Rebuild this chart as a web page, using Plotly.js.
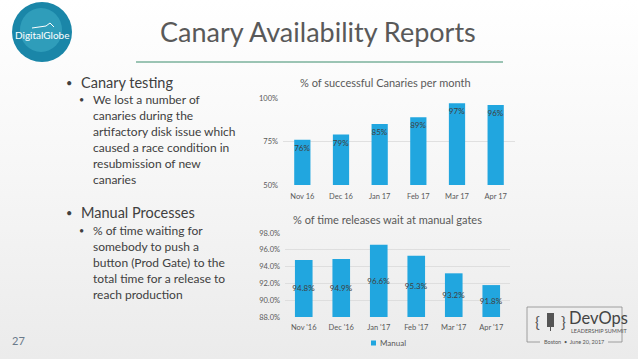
<!DOCTYPE html>
<html>
<head>
<meta charset="utf-8">
<script src="https://cdn.plot.ly/plotly-3.0.1.min.js"></script>
<style>
html,body{margin:0;padding:0;}
body{width:638px;height:359px;overflow:hidden;background:linear-gradient(#ffffff 0%, #f6f6f6 50%, #ebebeb 100%);}
#chart{width:638px;height:359px;}
</style>
</head>
<body>
<div id="chart"></div>
<script>
// ---- data ----
const canaryMonths = ["Nov 16","Dec 16","Jan 17","Feb 17","Mar 17","Apr 17"];
const canaryValues = [76, 79, 85, 89, 97, 96];
const canaryTicks = [50, 75, 100];
const canaryTickLabels = ["50%","75%","100%"];

const manualMonths = ["Nov '16","Dec '16","Jan '17","Feb '17","Mar '17","Apr '17"];
const manualValues = [94.8, 94.9, 96.6, 95.3, 93.2, 91.8];
const manualTicks = [88, 90, 92, 94, 96, 98];
const manualTickLabels = ["88.0%","90.0%","92.0%","94.0%","96.0%","98.0%"];
const manualAxisMin = 88;

const slideTitle = "Canary Availability Reports";
const chart1Title = "% of successful Canaries per month";
const chart2Title = "% of time releases wait at manual gates";
const seriesName = "Manual";
const pageNumber = "27";
const bullets = [
  {level:0, y:82, text:"Canary testing"},
  {level:1, y:99, text:"We lost a number of", dot:true},
  {level:1, y:115, text:"canaries during the"},
  {level:1, y:131, text:"artifactory disk issue which"},
  {level:1, y:147, text:"caused a race condition in"},
  {level:1, y:163, text:"resubmission of new"},
  {level:1, y:179, text:"canaries"},
  {level:0, y:212, text:"Manual Processes"},
  {level:1, y:230, text:"% of time waiting for", dot:true},
  {level:1, y:246, text:"somebody to push a"},
  {level:1, y:262, text:"button (Prod Gate) to the"},
  {level:1, y:278, text:"total time for a release to"},
  {level:1, y:294, text:"reach production"}
];

// ---- helpers (pixel -> paper) ----
const W = 638, H = 359;
const px = x => x / W;
const py = y => 1 - y / H;

const FONT = "Lato, 'Open Sans', sans-serif";
const BAR = "#21a6df";
const GRID = "#d9d9d9";
const TXT = "#595959";

const traces = [
  {
    type: "bar", x: canaryMonths, y: canaryValues, xaxis: "x", yaxis: "y",
    marker: {color: BAR}, width: 0.42, showlegend: false,
    text: canaryValues.map(v => v + "%"), textposition: "inside",
    insidetextanchor: "end", textangle: 0, constraintext: "none",
    textfont: {family: FONT, size: 8, color: "#404040"},
    hoverinfo: "x+text"
  },
  {
    // bars drawn from the axis minimum so that labels centre in the visible bar
    type: "bar", x: manualMonths, y: manualValues.map(v => v - manualAxisMin),
    base: manualValues.map(() => manualAxisMin), xaxis: "x2", yaxis: "y2",
    marker: {color: BAR}, width: 0.47, name: seriesName, showlegend: false,
    text: manualValues.map(v => v.toFixed(1) + "%"), textposition: "inside",
    insidetextanchor: "middle", textangle: 0, constraintext: "none",
    textfont: {family: FONT, size: 8, color: "#404040"},
    hoverinfo: "x+text"
  }
];

const annotations = [];
const shapes = [];

// slide title
annotations.push({xref:"paper", yref:"paper", x:px(318), y:py(32), text:slideTitle,
  showarrow:false, xanchor:"center", yanchor:"middle",
  font:{family:FONT, size:27, color:TXT}});
shapes.push({type:"line", xref:"paper", yref:"paper", x0:px(136), x1:px(503), y0:py(62), y1:py(62),
  line:{color:"#3a8c6c", width:1.2}});

// chart titles
annotations.push({xref:"paper", yref:"paper", x:px(385), y:py(82), text:chart1Title,
  showarrow:false, xanchor:"center", yanchor:"middle", font:{family:FONT, size:11, color:TXT}});
annotations.push({xref:"paper", yref:"paper", x:px(388), y:py(219), text:chart2Title,
  showarrow:false, xanchor:"center", yanchor:"middle", font:{family:FONT, size:11, color:TXT}});

// legend for chart 2
shapes.push({type:"rect", xref:"paper", yref:"paper", x0:px(371), x1:px(376), y0:py(345.5), y1:py(340.5),
  fillcolor:BAR, line:{width:0}});
annotations.push({xref:"paper", yref:"paper", x:px(378), y:py(343), text:seriesName,
  showarrow:false, xanchor:"left", yanchor:"middle", font:{family:FONT, size:8, color:TXT}});

// bullets
bullets.forEach(b => {
  const main = b.level === 0;
  const tx = main ? 79 : 91;
  const bx = main ? 69 : 81;
  const fs = main ? 14.5 : 12;
  annotations.push({xref:"paper", yref:"paper", x:px(tx), y:py(b.y), text:b.text,
    showarrow:false, xanchor:"left", yanchor:"middle", font:{family:FONT, size:fs, color:"#404040"}});
  if (main || b.dot) {
    annotations.push({xref:"paper", yref:"paper", x:px(bx), y:py(b.y), text:"•",
      showarrow:false, xanchor:"center", yanchor:"middle", font:{family:FONT, size:main?11:9, color:"#404040"}});
  }
});

// page number
annotations.push({xref:"paper", yref:"paper", x:px(18), y:py(340), text:pageNumber,
  showarrow:false, xanchor:"center", yanchor:"middle", font:{family:FONT, size:11, color:"#6a7a8a"}});

// DigitalGlobe logo
shapes.push({type:"circle", xref:"paper", yref:"paper", x0:px(12), x1:px(72), y0:py(62), y1:py(2),
  fillcolor:"#1a86a8", line:{width:0}});
shapes.push({type:"circle", xref:"paper", yref:"paper", x0:px(20), x1:px(62), y0:py(52), y1:py(8),
  fillcolor:"rgba(90,200,220,0.35)", line:{width:0}});
shapes.push({type:"path", xref:"paper", yref:"paper",
  path:`M ${px(32)} ${py(28)} L ${px(46)} ${py(26)} L ${px(50)} ${py(23)} L ${px(54)} ${py(27)}`,
  line:{color:"#ffffff", width:1}});
annotations.push({xref:"paper", yref:"paper", x:px(42), y:py(35), text:"DigitalGlobe",
  showarrow:false, xanchor:"center", yanchor:"middle", font:{family:FONT, size:10, color:"#ffffff"}});

// DevOps logo
const box = {l:527, r:622, t:307, b:342};
const lg = {color:"#8a8a8a", width:0.8};
shapes.push({type:"line", xref:"paper", yref:"paper", x0:px(box.l), x1:px(box.r), y0:py(box.t), y1:py(box.t), line:lg});
shapes.push({type:"line", xref:"paper", yref:"paper", x0:px(box.l), x1:px(box.l), y0:py(box.t), y1:py(box.b), line:lg});
shapes.push({type:"line", xref:"paper", yref:"paper", x0:px(box.r), x1:px(box.r), y0:py(box.t), y1:py(box.b), line:lg});
shapes.push({type:"line", xref:"paper", yref:"paper", x0:px(box.l), x1:px(540), y0:py(box.b), y1:py(box.b), line:lg});
shapes.push({type:"line", xref:"paper", yref:"paper", x0:px(608), x1:px(box.r), y0:py(box.b), y1:py(box.b), line:lg});
shapes.push({type:"rect", xref:"paper", yref:"paper", x0:px(547), x1:px(554), y0:py(327), y1:py(313),
  fillcolor:"#555555", line:{width:0}});
shapes.push({type:"line", xref:"paper", yref:"paper", x0:px(550.5), x1:px(550.5), y0:py(327), y1:py(331), line:{color:"#555555", width:1}});
annotations.push({xref:"paper", yref:"paper", x:px(537), y:py(321), text:"{",
  showarrow:false, xanchor:"center", yanchor:"middle", font:{family:FONT, size:16, color:"#555555"}});
annotations.push({xref:"paper", yref:"paper", x:px(563), y:py(321), text:"}",
  showarrow:false, xanchor:"center", yanchor:"middle", font:{family:FONT, size:16, color:"#555555"}});
annotations.push({xref:"paper", yref:"paper", x:px(567), y:py(318), text:"DevOps",
  showarrow:false, xanchor:"left", yanchor:"middle", font:{family:FONT, size:16.5, color:"#444444"}});
annotations.push({xref:"paper", yref:"paper", x:px(569), y:py(331), text:"LEADERSHIP SUMMIT",
  showarrow:false, xanchor:"left", yanchor:"middle", font:{family:FONT, size:5.5, color:"#555555"}});
annotations.push({xref:"paper", yref:"paper", x:px(574), y:py(342), text:"Boston  •  June 20, 2017",
  showarrow:false, xanchor:"center", yanchor:"middle", font:{family:FONT, size:5.5, color:"#555555"}});

const axisFont = {family: FONT, size: 7.5, color: TXT};

const layout = {
  width: W, height: H,
  margin: {l:0, r:0, t:0, b:0},
  paper_bgcolor: "rgba(0,0,0,0)",
  plot_bgcolor: "rgba(0,0,0,0)",
  font: {family: FONT, color: TXT},
  showlegend: false,
  xaxis: {domain:[px(283), px(515)], anchor:"y", showgrid:false, showline:false, zeroline:false,
    ticks:"", tickfont: axisFont, ticklabelstandoff: 5, fixedrange:true},
  yaxis: {domain:[py(185), py(98)], anchor:"x", range:[50,100], tickvals: canaryTicks, ticktext: canaryTickLabels,
    showgrid:true, gridcolor: GRID, gridwidth: 0.8, zeroline:false, showline:false, ticks:"",
    ticklabelstandoff: 4, tickfont: axisFont, fixedrange:true},
  xaxis2: {domain:[px(285), px(510)], anchor:"y2", showgrid:false, showline:false, zeroline:false,
    ticks:"", tickfont: axisFont, ticklabelstandoff: 4, fixedrange:true},
  yaxis2: {domain:[py(317), py(233)], anchor:"x2", range:[88,98], tickvals: manualTicks, ticktext: manualTickLabels,
    showgrid:true, gridcolor: GRID, gridwidth: 0.8, zeroline:false, showline:false, ticks:"",
    ticklabelstandoff: 4, tickfont: axisFont, fixedrange:true},
  annotations: annotations,
  shapes: shapes
};

Plotly.newPlot("chart", traces, layout, {displayModeBar:false, staticPlot:true});
</script>
</body>
</html>
